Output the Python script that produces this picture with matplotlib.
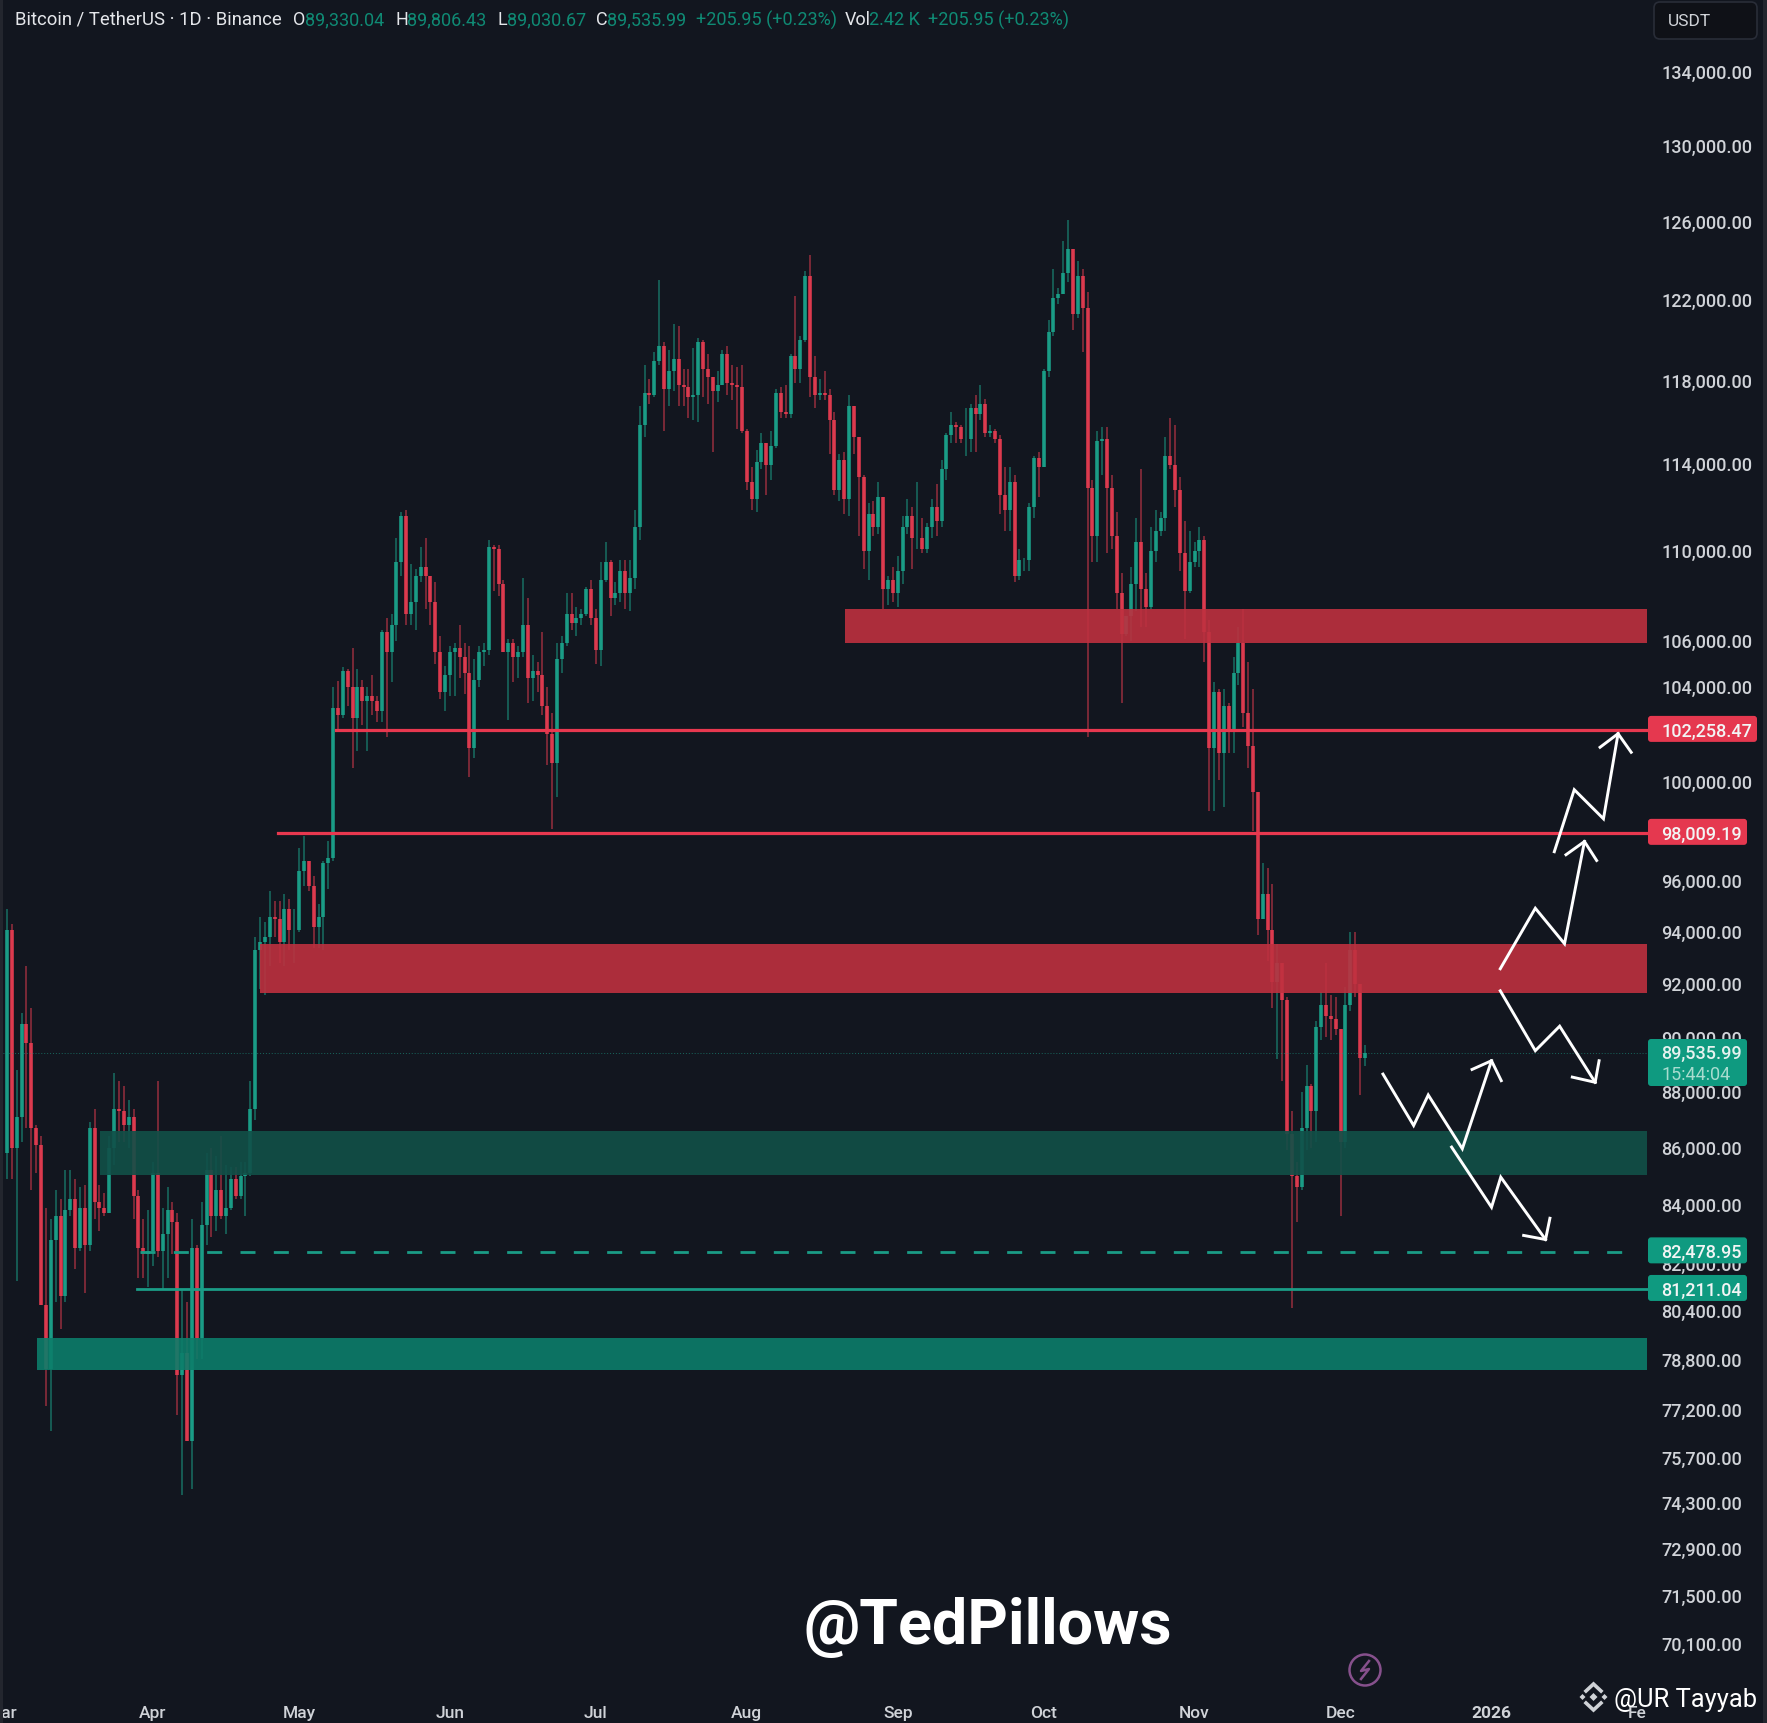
import matplotlib
matplotlib.use('Agg')
import matplotlib.pyplot as plt
import numpy as np
from matplotlib.patches import Circle, FancyBboxPatch, Polygon, Rectangle
from matplotlib.ticker import NullLocator
from matplotlib.transforms import ScaledTranslation

plt.rcParams['font.family'] = ['Roboto', 'DejaVu Sans']

# Daily candles, BTC/USDT in thousands, first candle is Mar 2 2025
first_open = 85.9
closes = [
    # Mar
    94.2, 86.1, 87.2, 90.6, 89.9, 86.8, 86.2, 80.7, 78.6, 82.9, 83.7, 81.0, 83.9, 84.3, 82.6,
    84.0, 82.7, 86.8, 84.2, 84.0, 83.8, 86.1, 87.5, 87.4, 86.9, 87.2, 84.4, 82.6, 82.4, 82.5,
    # Apr
    85.2, 82.5, 83.1, 83.9, 83.5, 78.4, 79.1, 76.3, 82.6, 79.6, 83.4, 85.3, 83.7, 84.6, 83.7,
    84.0, 85.0, 84.4, 85.1, 85.2, 87.5, 93.4, 93.7, 93.9, 94.7, 94.6, 93.7, 95.0, 94.2, 94.2,
    # May
    96.5, 96.9, 95.9, 94.3, 94.7, 96.8, 97.0, 103.2, 102.9, 104.8, 104.1, 102.8, 104.1, 103.5, 103.7, 103.5,
    103.1, 106.5, 105.6, 106.8, 109.6, 111.7, 107.3, 107.8, 109.0, 109.4, 109.0, 107.8, 105.6, 103.9, 104.6,
    # Jun
    105.6, 105.8, 105.4, 104.7, 101.5, 104.4, 105.6, 105.7, 110.3, 110.2, 108.6, 105.6, 106.0, 105.4, 105.6,
    106.8, 104.5, 104.8, 104.6, 103.3, 102.1, 100.9, 105.3, 106.0, 107.3, 106.9, 107.1, 107.3, 108.4, 107.1,
    # Jul
    105.7, 108.8, 109.6, 108.0, 108.2, 109.2, 108.2, 108.9, 111.2, 116.0, 117.5, 117.4, 119.1, 119.8, 117.7, 118.6,
    119.2, 117.9, 117.8, 117.3, 117.4, 120.0, 118.7, 118.3, 117.6, 117.9, 119.4, 118.0, 117.9, 117.8, 115.7,
    # Aug
    113.3, 112.5, 114.2, 115.1, 114.1, 115.0, 117.5, 116.6, 116.5, 119.3, 118.7, 120.1, 123.3, 118.3, 117.4, 117.5,
    117.4, 116.2, 112.9, 114.3, 112.5, 116.9, 115.4, 113.5, 110.1, 111.8, 111.2, 112.6, 108.4, 108.8, 108.2,
    # Sep
    109.2, 111.2, 111.7, 110.7, 110.7, 110.2, 111.2, 112.1, 111.5, 113.9, 115.5, 116.0, 115.9, 115.3, 115.3,
    116.8, 116.5, 117.0, 115.6, 115.7, 115.3, 112.7, 112.0, 113.3, 109.0, 109.7, 109.7, 112.1, 114.4, 114.0,
    # Oct
    118.6, 120.5, 122.2, 122.4, 123.5, 124.7, 121.4, 123.3, 121.7, 113.0, 110.8, 115.2, 115.3, 113.0, 110.8, 108.2,
    106.4, 107.2, 108.6, 110.5, 108.4, 107.6, 110.1, 111.0, 111.6, 114.5, 114.1, 112.9, 110.0, 108.3, 109.6,
    # Nov
    110.1, 110.6, 106.5, 101.5, 103.9, 101.3, 103.3, 102.3, 104.7, 106.0, 103.0, 101.6, 99.7, 94.6, 95.6,
    94.2, 92.2, 92.9, 91.5, 86.6, 85.1, 84.7, 86.8, 88.3, 87.4, 90.5, 91.3, 90.9, 90.8, 90.4,
    # Dec
    86.3, 91.3, 93.4, 92.1, 89.33, 89.536,
]
highs = [
    95.0, 94.4, 88.9, 91.0, 92.8, 91.2, 86.9, 86.5, 84.0, 83.6, 84.6, 84.3, 85.3, 85.3, 85.0,
    84.7, 84.8, 87.0, 87.5, 84.8, 84.5, 86.5, 88.8, 88.5, 88.3, 87.8, 87.5, 84.6, 83.6, 83.9,
    85.6, 88.5, 84.0, 84.7, 84.2, 83.8, 81.2, 80.8, 83.6, 82.7, 84.2, 85.9, 86.1, 85.8, 86.5,
    85.5, 85.4, 85.4, 85.6, 85.6, 88.5, 93.9, 94.7, 94.5, 95.7, 95.3, 95.3, 95.6, 95.4, 95.0,
    97.4, 97.9, 96.5, 96.3, 95.2, 96.9, 97.7, 104.1, 104.35, 104.95, 104.9, 105.8, 104.9, 104.4, 104.1, 104.6,
    103.7, 106.6, 107.1, 107.3, 110.7, 111.9, 112.0, 109.5, 109.3, 110.3, 110.7, 108.9, 108.7, 106.3, 105.0,
    105.9, 106.0, 106.8, 106.0, 105.9, 105.3, 105.9, 106.0, 110.6, 110.4, 110.4, 108.8, 106.2, 106.2, 105.9,
    108.9, 108.0, 105.5, 105.2, 106.5, 104.1, 103.0, 106.0, 106.3, 108.2, 108.2, 107.6, 107.5, 108.5, 108.8,
    107.5, 109.6, 110.5, 109.7, 108.7, 109.7, 109.7, 109.7, 112.0, 116.9, 118.9, 118.2, 119.5, 123.1, 120.0, 119.6,
    120.9, 120.8, 118.7, 118.7, 119.7, 120.2, 120.1, 119.4, 118.2, 118.6, 119.6, 119.8, 118.9, 118.8, 118.9,
    115.8, 114.0, 114.8, 115.6, 115.1, 115.7, 117.7, 117.8, 117.9, 119.4, 122.3, 120.3, 123.6, 124.4, 119.3, 118.2,
    118.6, 117.7, 116.6, 114.6, 114.7, 117.4, 116.7, 115.4, 113.6, 112.3, 112.4, 113.3, 112.6, 109.0, 109.4,
    109.9, 111.7, 112.5, 112.1, 113.3, 111.6, 111.4, 112.5, 113.2, 114.3, 115.6, 116.6, 116.1, 116.0, 116.8,
    117.0, 117.4, 117.9, 117.25, 116.0, 115.8, 115.5, 114.0, 114.0, 113.6, 110.2, 109.8, 112.3, 114.5, 114.7,
    118.7, 121.1, 123.7, 122.7, 125.1, 126.2, 124.5, 124.1, 123.7, 122.5, 113.4, 115.7, 115.9, 115.9, 113.6, 111.9,
    109.1, 107.2, 109.4, 111.6, 113.9, 109.1, 111.2, 112.0, 111.9, 115.4, 116.3, 116.0, 113.5, 111.5, 111.0,
    110.5, 111.2, 110.8, 107.0, 104.3, 104.0, 104.0, 103.4, 105.4, 106.7, 107.5, 105.2, 104.0, 99.6, 96.8,
    96.6, 96.0, 93.65, 92.9, 91.6, 87.4, 85.6, 88.1, 89.1, 88.4, 90.7, 91.8, 92.9, 91.7, 91.6,
    90.4, 92.0, 94.1, 94.1, 92.0, 89.806,
]
lows = [
    85.0, 85.0, 81.5, 86.3, 86.8, 84.6, 85.2, 80.7, 77.4, 76.6, 80.8, 79.9, 80.8, 83.7, 81.9,
    82.5, 81.1, 82.5, 83.6, 83.2, 83.7, 83.8, 85.5, 86.3, 86.3, 86.1, 83.6, 81.6, 81.6, 81.3,
    82.0, 82.3, 81.2, 81.6, 82.4, 77.1, 74.6, 76.3, 74.8, 78.9, 78.9, 82.7, 83.0, 83.2, 83.6,
    83.1, 83.9, 84.3, 84.3, 83.7, 85.1, 87.1, 91.9, 91.7, 92.8, 93.9, 92.9, 92.8, 93.4, 92.9,
    94.1, 95.9, 95.7, 93.5, 93.5, 93.4, 95.8, 96.9, 102.3, 102.8, 103.3, 100.7, 101.4, 102.5, 101.4, 102.9,
    102.6, 102.6, 102.0, 104.3, 106.1, 109.0, 106.8, 106.8, 106.6, 108.7, 107.5, 106.8, 105.1, 103.6, 103.1,
    103.7, 103.7, 104.5, 103.8, 100.3, 101.1, 104.1, 105.0, 105.5, 108.3, 108.1, 105.6, 102.7, 104.3, 104.5,
    105.4, 103.4, 103.5, 103.9, 102.9, 100.8, 98.2, 99.5, 104.7, 105.9, 106.6, 106.3, 106.8, 107.2, 106.8,
    105.1, 105.0, 108.7, 107.2, 107.7, 107.8, 107.5, 107.4, 108.4, 110.6, 115.4, 117.0, 117.3, 118.9, 115.7, 116.9,
    117.6, 116.9, 116.9, 116.3, 116.2, 116.1, 117.3, 117.0, 114.7, 117.1, 117.9, 117.4, 117.2, 115.8, 115.6,
    112.9, 112.0, 111.9, 113.9, 112.7, 113.4, 114.9, 116.3, 116.3, 116.3, 118.0, 118.0, 120.0, 117.3, 116.8, 117.2,
    117.2, 114.6, 112.7, 112.4, 111.8, 111.7, 114.6, 110.8, 109.3, 108.8, 110.8, 110.9, 107.5, 107.7, 107.8,
    107.6, 108.6, 110.9, 109.3, 110.2, 110.0, 110.0, 110.7, 110.8, 111.2, 113.4, 115.1, 115.1, 115.1, 114.5,
    114.7, 114.7, 116.2, 115.4, 115.4, 115.1, 111.8, 111.0, 111.0, 108.7, 108.8, 109.2, 109.2, 111.6, 112.6,
    114.0, 118.3, 120.3, 121.9, 122.4, 123.0, 120.6, 121.2, 119.5, 102.0, 109.6, 109.6, 113.6, 110.0, 110.2, 107.5,
    103.4, 106.3, 106.1, 107.4, 106.7, 106.7, 107.5, 109.6, 110.8, 111.0, 113.9, 112.1, 109.2, 106.2, 108.2,
    109.4, 109.4, 105.2, 98.9, 98.9, 100.2, 99.1, 101.3, 101.3, 104.2, 102.4, 100.7, 98.1, 94.0, 94.6,
    93.0, 91.2, 89.3, 88.5, 86.0, 80.6, 83.5, 84.6, 86.0, 86.1, 86.3, 90.0, 90.1, 90.0, 90.2,
    83.7, 86.1, 91.1, 91.6, 88.0, 89.03,
]

# Price axis
price_ticks = [134000, 130000, 126000, 122000, 118000, 114000, 110000, 106000, 104000, 100000,
               96000, 94000, 92000, 90000, 88000, 86000, 84000, 82000, 80400, 78800, 77200,
               75700, 74300, 72900, 71500, 70100]

# Time axis, days since the first candle
month_days = [-1, 30, 60, 91, 121, 152, 183, 213, 244, 274, 305, 335]
month_labels = ['Mar', 'Apr', 'May', 'Jun', 'Jul', 'Aug', 'Sep', 'Oct', 'Nov', 'Dec', '2026', 'Fe']

# Zones: start day, bottom price, top price
red_zones = [(172.2, 106010, 107510), (52.0, 91770, 93650)]
green_zones = [(19.1, 85140, 86690, '#115048'), (6.2, 78560, 79600, '#0c7d6a')]
zone_end = 337.0

# Horizontal price lines
line_prices = [102258.47, 98009.19, 82478.95, 81211.04]
line_starts = [67.6, 55.7, 27.3, 26.7]
last_price = 89535.99

# Hand drawn arrows: days and prices in thousands, then the arrow head
arrow_days = [
    [282.7, 289.0, 292.0, 299.0, 305.0],
    [296.8, 305.0, 306.9, 316.1],
    [306.8, 314.0, 319.0, 326.3],
    [306.8, 314.0, 320.0, 324.1],
    [317.9, 322.0, 328.0, 331.0],
]
arrow_prices = [
    [88.75, 86.89, 87.99, 86.06, 89.24],
    [86.12, 84.01, 85.06, 82.90],
    [91.85, 89.61, 90.52, 88.45],
    [92.69, 95.03, 93.65, 97.68],
    [97.27, 99.79, 98.60, 102.12],
]
head_days = [[301.0, 307.0], [311.6, 317.0], [321.6, 327.1], [320.3, 326.6], [327.3, 333.7]]
head_prices = [[88.92, 88.51], [83.04, 83.63], [88.64, 89.24], [97.15, 96.92], [101.55, 101.34]]

BG = '#12161f'
GREEN = '#1a9c86'
RED = '#dc3a4e'
LABEL = '#d0d3d8'
W, H = 1767, 1724

closes = np.array(closes) * 1000
highs = np.array(highs) * 1000
lows = np.array(lows) * 1000
opens = np.r_[first_open * 1000, closes[:-1]]
days = np.arange(len(closes))
up = closes >= opens

fig = plt.figure(figsize=(W / 100, H / 100), dpi=100, facecolor=BG)
ax = fig.add_axes([0, 0, 1, 1], facecolor=BG)
ax.set_yscale('log')
ax.set_xlim(-1.438, 361.6)
ax.set_ylim(67920, 138242)

for mask, col in [(up, GREEN), (~up, RED)]:
    ax.vlines(days[mask], lows[mask], highs[mask], color=col, lw=1.1, alpha=0.65, zorder=2, capstyle='butt')
    ax.vlines(days[mask], np.minimum(opens, closes)[mask], np.maximum(opens, closes)[mask],
              color=col, lw=2.6, zorder=2.1, capstyle='butt')

for start, bottom, top in red_zones:
    ax.fill_between([start, zone_end], bottom, top, color='#be303f', alpha=0.9, lw=0, zorder=3)
for start, bottom, top, col in green_zones:
    ax.fill_between([start, zone_end], bottom, top, color=col, alpha=0.9, lw=0, zorder=3)

ax.plot([-1.4, zone_end], [last_price, last_price], color=GREEN, lw=0.7, ls=(0, (1, 2)), alpha=0.6, zorder=3.1)
ax.plot([line_starts[0], zone_end], [line_prices[0]] * 2, color='#e8384f', lw=2.3, zorder=4)
ax.plot([line_starts[1], zone_end], [line_prices[1]] * 2, color='#e8384f', lw=2.3, zorder=4)
ax.plot([line_starts[2], zone_end - 2], [line_prices[2]] * 2, color=GREEN, lw=2.0, ls=(0, (5.4, 6.6)), zorder=4)
ax.plot([line_starts[3], zone_end], [line_prices[3]] * 2, color=GREEN, lw=2.0, zorder=4)

for xs, ys, hx, hy in zip(arrow_days, arrow_prices, head_days, head_prices):
    ys = np.array(ys) * 1000
    ax.plot(xs, ys, color='white', lw=2.1, zorder=5, solid_joinstyle='miter')
    ax.plot([hx[0], xs[-1], hx[1]], [hy[0] * 1000, ys[-1], hy[1] * 1000], color='white', lw=2.1, zorder=5,
            solid_joinstyle='miter')

ax.yaxis.set_minor_locator(NullLocator())
ax.set_yticks(price_ticks, [f'{p:,.2f}' for p in price_ticks])
ax.yaxis.tick_right()
ax.tick_params(axis='y', length=0, pad=-76.3, labelsize=13, labelcolor=LABEL)
ax.set_xticks(month_days, month_labels)
ax.tick_params(axis='x', length=0, pad=-13, labelsize=12.5, labelcolor=LABEL)
ax.get_xticklabels()[10].set_fontweight('bold')
nudge = ScaledTranslation(0, 3.5 / 100, fig.dpi_scale_trans)
for lab in ax.get_yticklabels():
    lab.set_fontweight(500)
    lab.set_transform(lab.get_transform() + nudge)
for lab in ax.get_xticklabels():
    if lab.get_text() != '2026':
        lab.set_fontweight(500)
for side in ax.spines.values():
    side.set_visible(False)

# Everything below sits on a pixel overlay: price tags, header, watermarks
ov = fig.add_axes([0, 0, 1, 1])
ov.set_xlim(0, W)
ov.set_ylim(H, 0)
ov.axis('off')


def price_y(price):
    return H - ax.transData.transform((0, price))[1]


def tag(price, col, right=1747):
    y = price_y(price) - 1.5
    ov.add_patch(FancyBboxPatch((1649, y - 12), right - 1650, 24, boxstyle='round,pad=1,rounding_size=3', fc=col, ec='none'))
    ov.text(1661, y, f'{price:,.2f}', color='#f2f5f5', fontsize=13, fontweight=500, va='center_baseline')


tag(line_prices[0], '#e5384f', right=1757)
tag(line_prices[1], '#e5384f')
tag(line_prices[2], '#0f9a80')
tag(line_prices[3], '#0f9a80')
ov.add_patch(FancyBboxPatch((1649, 1041), 97, 45, boxstyle='round,pad=1,rounding_size=3', fc='#0f9a80', ec='none'))
ov.text(1661, 1052, f'{last_price:,.2f}', color='#e6f2ef', fontsize=13, fontweight=500, va='center_baseline')
ov.text(1661, 1073, '15:44:04', color='#a8dccf', fontsize=13, va='center_baseline')

# header row
ov.text(15, 18, 'Bitcoin / TetherUS · 1D · Binance', color='#e4e6ea', fontsize=13.3, va='center_baseline')
head_white = [(293, 'O'), (395, 'H'), (497, 'L'), (596, 'C'), (845, 'Vol')]
head_green = [(305, '89,330.04'), (407, '89,806.43'), (507, '89,030.67'), (607, '89,535.99'),
              (696, '+205.95 (+0.23%)'), (869, '2.42 K'), (928, '+205.95 (+0.23%)')]
for x, s in head_white:
    ov.text(x, 18, s, color='#e4e6ea', fontsize=13, va='center_baseline')
for x, s in head_green:
    ov.text(x, 18, s, color='#0f8a74', fontsize=13, va='center_baseline')

ov.add_patch(FancyBboxPatch((1655, 4), 101, 35, boxstyle='round,pad=1,rounding_size=6', fc='#0f1117', ec='#292d38', lw=1.2))
ov.text(1668, 20, 'USDT', color=LABEL, fontsize=12.5, va='center_baseline')

# lighter window edges
ov.add_patch(Rectangle((0, 0), 3, H, fc='#23262e', ec='none'))
ov.add_patch(Rectangle((1763, 0), 4, H, fc='#23262e', ec='none'))

# watermarks
ov.text(988, 1621, '@TedPillows', color='white', fontsize=45.2, fontweight='bold', ha='center', va='center_baseline')
ov.text(1614, 1698, '@UR Tayyab', color='white', fontsize=18.4, va='center_baseline')
for cx, cy, r in [(1593.5, 1698, 4), (1582.5, 1698, 3), (1604.5, 1698, 3)]:
    ov.add_patch(Polygon([(cx - r, cy), (cx, cy - r), (cx + r, cy), (cx, cy + r)], fc='#cfd2d6', ec='none'))
ov.plot([1586, 1593.5, 1601], [1692, 1685, 1692], color='#cfd2d6', lw=2.6, solid_joinstyle='miter')
ov.plot([1586, 1593.5, 1601], [1704, 1711, 1704], color='#cfd2d6', lw=2.6, solid_joinstyle='miter')

# lightning badge
ov.add_patch(Circle((1365, 1671), 15.5, fc='none', ec='#86508c', lw=1.8))
ov.plot([1369, 1361, 1369, 1361], [1662, 1672, 1670, 1680], color='#86508c', lw=1.8)

fig.savefig('out.png', dpi=100, facecolor=BG)
